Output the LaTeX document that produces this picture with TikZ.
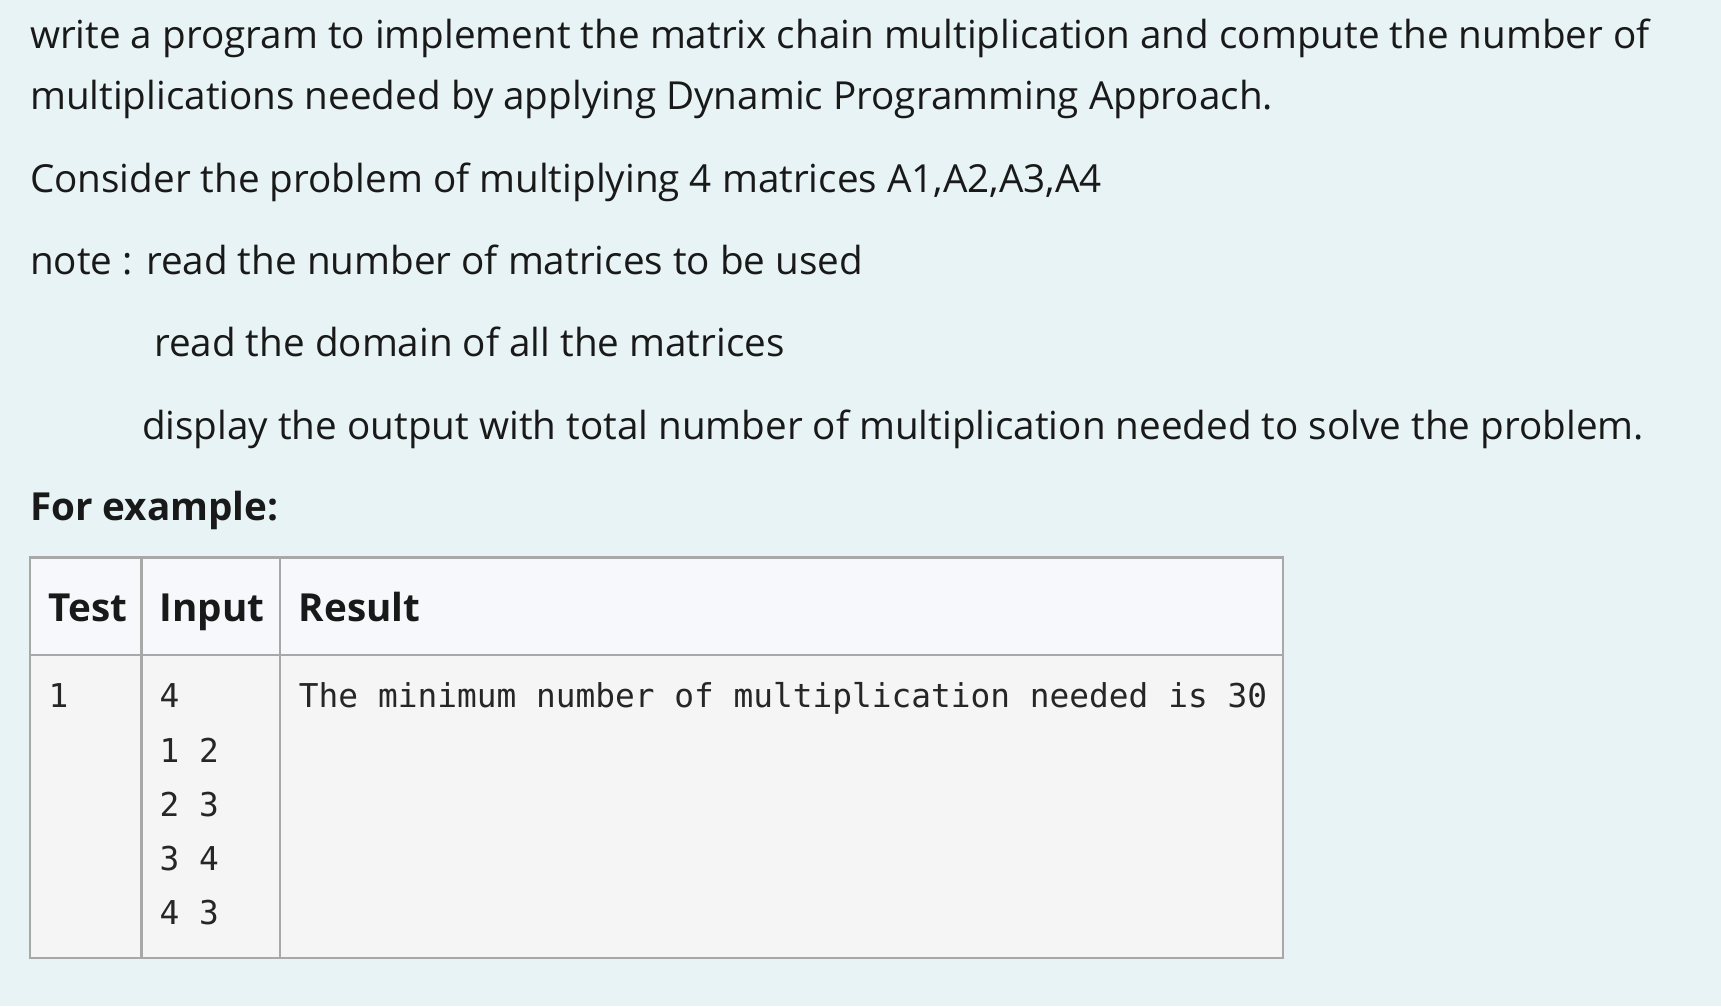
\documentclass[tikz,border=0pt]{standalone}
\usepackage{fontspec}
\setmainfont{Open Sans}
\setmonofont{DejaVu Sans Mono}
\begin{document}
\begin{tikzpicture}[x=0.5pt,y=-0.5pt,
  txt/.style={anchor=base west,inner sep=0pt,font=\fontsize{17.6}{21}\selectfont,text=black!90},
  hd/.style={txt,font=\fontsize{17.6}{21}\selectfont\bfseries},
  mono/.style={anchor=base west,inner sep=0pt,font=\ttfamily\fontsize{14.95}{18}\selectfont,text=black!85}]
\definecolor{bg}{HTML}{E7F3F4}
\definecolor{hbg}{HTML}{F7F8FC}
\definecolor{bbg}{HTML}{F5F5F5}
\definecolor{bd}{HTML}{A8A8A8}
\fill[bg] (0,0) rectangle (1568,917);
\useasboundingbox (0,0) rectangle (1568,917);
\node[txt] (l1) at (27,44) {write a program to implement the matrix chain multiplication and compute the number of};
\node[txt] (l2) at (27,100) {multiplications needed by applying Dynamic Programming Approach.};
\node[txt] (l3) at (27,175) {Consider the problem of multiplying 4 matrices A1,A2,A3,A4};
\node[txt] (l4) at (27,250) {note : read the number of matrices to be used};
\node[txt] (l5) at (140,325) {read the domain of all the matrices};
\node[txt] (l6) at (129,400) {display the output with total number of multiplication needed to solve the problem.};
\node[hd] (l7) at (27,474) {For example:};
\fill[hbg] (27,508) rectangle (1169,597);
\fill[bbg] (27,597) rectangle (1169,873);
\draw[bd,line width=1pt] (27,508) rectangle (1169,873);
\draw[bd,line width=1pt] (27,597) -- (1169,597);
\draw[bd,line width=1pt] (129,508) -- (129,873);
\draw[bd,line width=1pt] (255,508) -- (255,873);
\node[hd] (h1) at (44,566) {Test};
\node[hd] (h2) at (145,566) {Input};
\node[hd] (h3) at (272,566) {Result};
\node[mono] (t1) at (44,645) {1};
\node[mono] (i1) at (145,645) {4};
\node[mono] (i2) at (145,695) {1 2};
\node[mono] (i3) at (145,744) {2 3};
\node[mono] (i4) at (145,793) {3 4};
\node[mono] (i5) at (145,842) {4 3};
\node[mono] (r1) at (272,645) {The minimum number of multiplication needed is 30};
\end{tikzpicture}
\end{document}
